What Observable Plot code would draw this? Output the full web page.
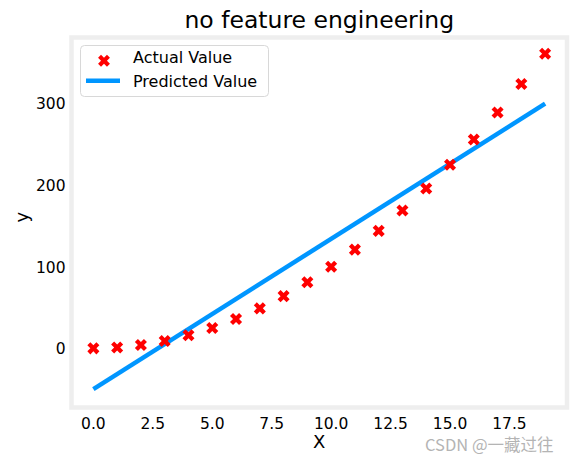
<!DOCTYPE html>
<html>
<head>
<meta charset="utf-8">
<script src="https://cdn.jsdelivr.net/npm/d3@7"></script>
<script src="https://cdn.jsdelivr.net/npm/@observablehq/plot@0.6"></script>
<style>
  body { margin: 0; background: #fff; }
  #wrap { position: relative; width: 577px; height: 461px; font-family: "DejaVu Sans", sans-serif; }
  #wm { position: absolute; left: 425px; top: 436px; font-family: "Noto Sans CJK SC", sans-serif; font-size: 16.5px; color: #b4b4b4; white-space: nowrap; line-height: 17px; }
</style>
</head>
<body>
<div id="wrap"></div>
<script>
const xValues = [0,1,2,3,4,5,6,7,8,9,10,11,12,13,14,15,16,17,18,19];
const actualValues = [1,2,5,10,17,26,37,50,65,82,101,122,145,170,197,226,257,290,325,362];
const predX = [0, 19];
const predY = [-49, 301];
const xTicks = [0, 2.5, 5, 7.5, 10, 12.5, 15, 17.5];
const yTicks = [0, 100, 200, 300];
const titleText = "no feature engineering";
const legendLabels = ["Actual Value", "Predicted Value"];

const actual = xValues.map((x, i) => ({x, y: actualValues[i]}));
const pred = predX.map((x, i) => ({x, y: predY[i]}));

// matplotlib-like filled "X" marker
const xFilled = {
  draw(ctx, size) {
    const r = Math.sqrt(size / Math.PI);
    const pts = [[-1,-3],[-1,-1],[-3,-1],[-3,1],[-1,1],[-1,3],[1,3],[1,1],[3,1],[3,-1],[1,-1],[1,-3]];
    const s = r / 3 / Math.SQRT2;
    pts.forEach(([a, b], i) => {
      const px = (a - b) * s, py = (a + b) * s;
      if (i === 0) ctx.moveTo(px, py); else ctx.lineTo(px, py);
    });
    ctx.closePath();
  }
};

const chart = Plot.plot({
  width: 577,
  height: 461,
  marginLeft: 71,
  marginRight: 10.5,
  marginTop: 37,
  marginBottom: 54,
  style: {fontFamily: "DejaVu Sans", fontSize: "15.5px", color: "#000", background: "#fff"},
  x: {domain: [-0.92, 19.92], ticks: xTicks, tickFormat: d => d.toFixed(1), tickSize: 0, tickPadding: 10, label: null},
  y: {domain: [-71.5, 382], ticks: yTicks, tickSize: 0, tickPadding: 6, label: null},
  marks: [
    Plot.frame({stroke: "#eeeeee", strokeWidth: 4.5}),
    Plot.line(pred, {x: "x", y: "y", stroke: "#0096ff", strokeWidth: 4.5, strokeLinecap: "butt"}),
    Plot.dot(actual, {x: "x", y: "y", symbol: xFilled, r: 6.4, fill: "#ff0000", stroke: "none"}),
    Plot.text([titleText], {frameAnchor: "top", dy: -17, lineAnchor: "middle", fontSize: 23.5, fill: "#000"}),
    Plot.text(["X"], {frameAnchor: "bottom", dy: 35, lineAnchor: "middle", fontSize: 18, fill: "#000"}),
    Plot.text(["y"], {frameAnchor: "left", dx: -49, rotate: -90, lineAnchor: "middle", fontSize: 18, fill: "#000"})
  ]
});

// legend (matplotlib style box)
const svg = d3.select(chart);
const lg = svg.append("g").attr("font-family", "DejaVu Sans").attr("font-size", 16).attr("text-anchor", "start");
lg.append("rect").attr("x", 80.5).attr("y", 45.5).attr("width", 188).attr("height", 51)
  .attr("rx", 4).attr("fill", "rgba(255,255,255,0.8)").attr("stroke", "#d8d8d8").attr("stroke-width", 1);
lg.append("path").attr("transform", "translate(104,60.7)")
  .attr("d", d3.symbol(xFilled, Math.PI * 6.3 * 6.3)()).attr("fill", "#ff0000");
lg.append("line").attr("x1", 86).attr("x2", 120).attr("y1", 80.7).attr("y2", 80.7)
  .attr("stroke", "#0096ff").attr("stroke-width", 4.5);
lg.append("text").attr("x", 133).attr("y", 63.3).attr("fill", "#000").attr("text-anchor", "start").text(legendLabels[0]);
lg.append("text").attr("x", 133).attr("y", 86.7).attr("fill", "#000").attr("text-anchor", "start").text(legendLabels[1]);

const wrap = document.getElementById("wrap");
wrap.appendChild(chart);
const wm = document.createElement("div");
wm.id = "wm";
wm.textContent = "CSDN @一藏过往";
wrap.appendChild(wm);
</script>
</body>
</html>
